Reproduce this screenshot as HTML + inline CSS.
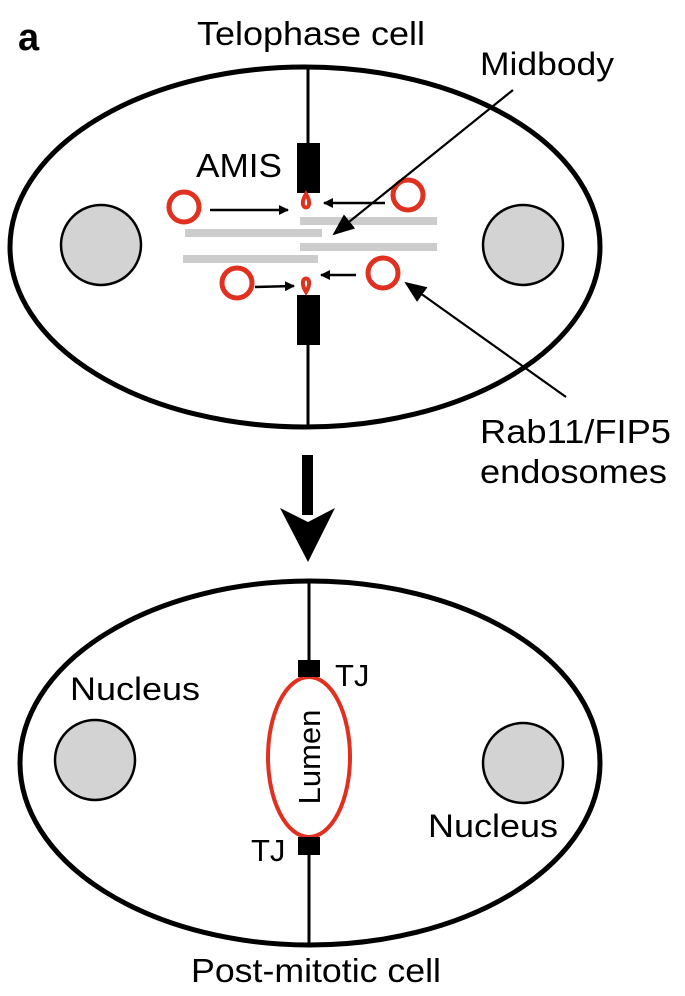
<!DOCTYPE html>
<html><head><meta charset="utf-8"><style>html,body{margin:0;padding:0;background:#fff}svg{display:block}</style></head>
<body>
<svg width="685" height="996" viewBox="0 0 685 996" xmlns="http://www.w3.org/2000/svg" font-family="Liberation Sans, Arial, sans-serif">
<defs>
<marker id="ah" markerWidth="10" markerHeight="10" refX="9" refY="5" orient="auto" markerUnits="userSpaceOnUse"><path d="M0,0 L10,5 L0,10 Z" fill="#000"/></marker>
<marker id="ahl" markerWidth="22" markerHeight="18" refX="20" refY="9" orient="auto" markerUnits="userSpaceOnUse"><path d="M0,0 L22,9 L0,18 Z" fill="#000"/></marker>
</defs>
<text x="18" y="50" font-size="38" font-weight="bold">a</text>
<text x="197" y="45" font-size="33" textLength="228" lengthAdjust="spacingAndGlyphs">Telophase cell</text>
<text x="480" y="75" font-size="32" textLength="134" lengthAdjust="spacingAndGlyphs">Midbody</text>
<ellipse cx="305" cy="247" rx="295" ry="180" fill="none" stroke="#000" stroke-width="5"/>
<line x1="308" y1="67" x2="308" y2="150" stroke="#000" stroke-width="3"/>
<line x1="308" y1="340" x2="308" y2="427" stroke="#000" stroke-width="3"/>
<circle cx="101" cy="245" r="40" fill="#d3d3d3" stroke="#000" stroke-width="2.5"/>
<circle cx="523" cy="245" r="40" fill="#d3d3d3" stroke="#000" stroke-width="2.5"/>
<rect x="297" y="143" width="23" height="50" fill="#000"/>
<rect x="297" y="295" width="23" height="50" fill="#000"/>
<text x="196" y="177" font-size="33" textLength="86" lengthAdjust="spacingAndGlyphs">AMIS</text>
<rect x="300" y="217" width="137" height="8" fill="#ccc"/>
<rect x="185" y="229" width="137" height="8" fill="#ccc"/>
<rect x="300" y="243" width="137" height="8" fill="#ccc"/>
<rect x="183" y="255" width="135" height="8" fill="#ccc"/>
<g fill="none" stroke="#e03020" stroke-width="5">
<circle cx="184" cy="207" r="15"/>
<circle cx="408" cy="195" r="15"/>
<circle cx="237" cy="283" r="15"/>
<circle cx="383" cy="273" r="15"/>
</g>
<g fill="none" stroke="#e03020" stroke-width="4">
<path d="M306,194 C295,212 317,212 306,194 Z"/>
<path d="M306,292 C295,274 317,274 306,292 Z"/>
</g>
<g stroke="#000" stroke-width="2.5" marker-end="url(#ah)">
<line x1="210" y1="210" x2="288" y2="210"/>
<line x1="385" y1="203" x2="324" y2="203"/>
<line x1="255" y1="287" x2="294" y2="286"/>
<line x1="356" y1="275" x2="321" y2="275"/>
</g>
<g stroke="#000" stroke-width="2.2" marker-end="url(#ahl)">
<line x1="513" y1="90" x2="334" y2="234"/>
<line x1="566" y1="397" x2="406" y2="283"/>
</g>
<text x="480" y="443" font-size="33" textLength="191" lengthAdjust="spacingAndGlyphs">Rab11/FIP5</text>
<text x="480" y="483" font-size="33" textLength="187" lengthAdjust="spacingAndGlyphs">endosomes</text>
<rect x="302" y="455" width="11" height="60" fill="#000"/>
<path d="M280,508 L308,562 L335,508 L308,522 Z" fill="#000"/>
<ellipse cx="310" cy="763" rx="290" ry="182" fill="none" stroke="#000" stroke-width="5"/>
<line x1="309" y1="582" x2="309" y2="945" stroke="#000" stroke-width="3"/>
<ellipse cx="309" cy="757" rx="41" ry="80" fill="#fff" stroke="#e03020" stroke-width="4"/>
<rect x="298" y="660" width="22" height="17" fill="#000"/>
<rect x="298" y="837" width="22" height="18" fill="#000"/>
<text font-size="31" transform="translate(320,757) rotate(-90)" text-anchor="middle">Lumen</text>
<text x="335" y="686" font-size="31">TJ</text>
<text x="251" y="861" font-size="31">TJ</text>
<text x="70" y="700" font-size="32" textLength="130" lengthAdjust="spacingAndGlyphs">Nucleus</text>
<text x="428" y="837" font-size="32" textLength="130" lengthAdjust="spacingAndGlyphs">Nucleus</text>
<circle cx="95" cy="760" r="40" fill="#d3d3d3" stroke="#000" stroke-width="2.5"/>
<circle cx="523" cy="763" r="40" fill="#d3d3d3" stroke="#000" stroke-width="2.5"/>
<text x="191" y="982" font-size="33" textLength="250" lengthAdjust="spacingAndGlyphs">Post-mitotic cell</text>
</svg>
</body></html>
